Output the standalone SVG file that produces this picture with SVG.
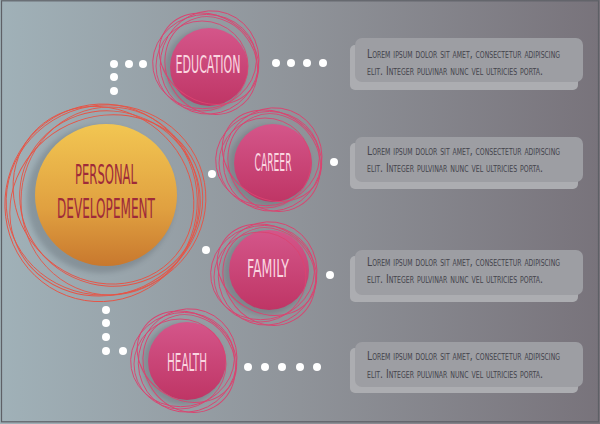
<svg xmlns="http://www.w3.org/2000/svg" xmlns:xlink="http://www.w3.org/1999/xlink" width="600" height="424" viewBox="0 0 600 424">
<defs>
<linearGradient id="bg" x1="0" y1="0" x2="1" y2="0">
<stop offset="0" stop-color="#a0b1b8"/>
<stop offset="0.5" stop-color="#8f9399"/>
<stop offset="1" stop-color="#78737b"/>
</linearGradient>
<linearGradient id="gold" x1="0" y1="0" x2="0" y2="1">
<stop offset="0" stop-color="#f2c652"/>
<stop offset="0.6" stop-color="#e0a040"/>
<stop offset="1" stop-color="#c8782e"/>
</linearGradient>
<linearGradient id="pink" x1="0" y1="0" x2="0" y2="1">
<stop offset="0" stop-color="#d4568a"/>
<stop offset="1" stop-color="#bf3565"/>
</linearGradient>
<filter id="blur" x="-30%" y="-30%" width="160%" height="160%"><feGaussianBlur stdDeviation="2.5"/></filter>
<g id="scrib" fill="none" stroke="#da4470" stroke-width="0.9">
<ellipse cx="-3" cy="-3" rx="52" ry="47" transform="rotate(-10)"/>
<ellipse cx="1" cy="-2" rx="49" ry="52" transform="rotate(20)"/>
<ellipse cx="-6" cy="2" rx="46" ry="45"/>
<ellipse cx="-2" cy="-5" rx="52" ry="43" transform="rotate(32)"/>
<ellipse cx="2" cy="3" rx="45" ry="50" transform="rotate(-30)"/>
</g>
<g id="scribBig" fill="none" stroke="#e65446" stroke-width="0.9">
<ellipse cx="0" cy="0" rx="100" ry="95" transform="rotate(-10)"/>
<ellipse cx="-4" cy="4" rx="96" ry="99" transform="rotate(15)"/>
<ellipse cx="3" cy="-3" rx="91" ry="87" transform="rotate(25)"/>
<ellipse cx="-2" cy="5" rx="98" ry="89" transform="rotate(-25)"/>
<ellipse cx="4" cy="1" rx="89" ry="94"/>
<ellipse cx="-5" cy="-2" rx="94" ry="85" transform="rotate(40)"/>
</g>
</defs>
<style>
.dot{fill:#ffffff}
.lbl{font-family:"Liberation Sans Narrow","DejaVu Sans Condensed","Liberation Sans",sans-serif;font-size:24px;fill:#fad6e0;text-anchor:middle}
.main{font-family:"Liberation Sans Narrow","DejaVu Sans Condensed","Liberation Sans",sans-serif;font-size:26px;fill:#9e2a3a;text-anchor:middle}
.lorem{font-family:"Liberation Sans Narrow","DejaVu Sans Condensed","Liberation Sans",sans-serif;font-size:12px;font-variant:small-caps;fill:#44444c}
.back{fill:#acadb1}
.front{fill:#9d9ea3}
.shadow{fill:#3a3f48;opacity:0.22;filter:url(#blur)}
</style>
<rect x="0" y="0" width="600" height="424" fill="url(#bg)"/>
<rect x="1.5" y="0.8" width="597" height="421" fill="none" stroke="#5e6066" stroke-width="1.2"/>

<g id="connectors">
<circle class="dot" cx="114" cy="64" r="4"/><circle class="dot" cx="129" cy="64" r="4"/><circle class="dot" cx="143" cy="64" r="4"/>
<circle class="dot" cx="114" cy="77" r="4"/><circle class="dot" cx="114" cy="91" r="4"/>
<circle class="dot" cx="276" cy="63" r="4"/><circle class="dot" cx="291" cy="63" r="4"/><circle class="dot" cx="307" cy="63" r="4"/><circle class="dot" cx="323" cy="63" r="4"/>
<circle class="dot" cx="212" cy="174" r="4"/><circle class="dot" cx="334" cy="162" r="4"/>
<circle class="dot" cx="206" cy="250" r="4"/><circle class="dot" cx="330" cy="275" r="4"/>
<circle class="dot" cx="106" cy="310" r="4"/><circle class="dot" cx="106" cy="323" r="4"/><circle class="dot" cx="106" cy="337" r="4"/><circle class="dot" cx="106" cy="351" r="4"/><circle class="dot" cx="123" cy="351" r="4"/>
<circle class="dot" cx="248" cy="367" r="4"/><circle class="dot" cx="265" cy="367" r="4"/><circle class="dot" cx="282" cy="367" r="4"/><circle class="dot" cx="300" cy="367" r="4"/><circle class="dot" cx="317" cy="367" r="4"/>
</g>

<g id="personal">
<circle class="shadow" cx="101" cy="199" r="74"/>
<circle cx="106" cy="195" r="71" fill="url(#gold)"/>
<use xlink:href="#scribBig" transform="translate(106,200)"/>
<text class="main" x="106" y="184" textLength="62" lengthAdjust="spacingAndGlyphs">PERSONAL</text>
<text class="main" x="106" y="218" textLength="98" lengthAdjust="spacingAndGlyphs">DEVELOPEMENT</text>
</g>

<g id="education">
<circle class="shadow" cx="205" cy="70" r="41"/>
<circle cx="209" cy="67" r="39" fill="url(#pink)"/>
<use xlink:href="#scrib" transform="translate(208,64)"/>
<text class="lbl" x="208" y="73" textLength="65" lengthAdjust="spacingAndGlyphs">EDUCATION</text>
</g>

<g id="career">
<circle class="shadow" cx="269" cy="166" r="41"/>
<circle cx="273" cy="163" r="39" fill="url(#pink)"/>
<use xlink:href="#scrib" transform="translate(271,161)"/>
<text class="lbl" x="273" y="171" textLength="37" lengthAdjust="spacingAndGlyphs">CAREER</text>
</g>

<g id="family">
<circle class="shadow" cx="265" cy="273" r="42"/>
<circle cx="269" cy="270" r="40" fill="url(#pink)"/>
<use xlink:href="#scrib" transform="translate(266,275)"/>
<text class="lbl" x="268" y="277" textLength="42" lengthAdjust="spacingAndGlyphs">FAMILY</text>
</g>

<g id="health">
<circle class="shadow" cx="183" cy="364" r="41"/>
<circle cx="187" cy="361" r="39" fill="url(#pink)"/>
<use xlink:href="#scrib" transform="translate(186,362)"/>
<text class="lbl" x="187" y="371" textLength="40" lengthAdjust="spacingAndGlyphs">HEALTH</text>
</g>

<g id="box1">
<rect class="back" x="350" y="45" width="228" height="45" rx="5"/>
<rect class="front" x="355" y="38" width="228" height="44" rx="7"/>
<text class="lorem" x="367" y="58" textLength="193" lengthAdjust="spacingAndGlyphs">Lorem ipsum dolor sit amet, consectetur adipiscing</text>
<text class="lorem" x="367" y="75" textLength="176" lengthAdjust="spacingAndGlyphs">elit. Integer pulvinar nunc vel ultricies porta.</text>
</g>

<g id="box2">
<rect class="back" x="350" y="143" width="228" height="46" rx="5"/>
<rect class="front" x="355" y="137" width="228" height="45" rx="7"/>
<text class="lorem" x="367" y="155" textLength="193" lengthAdjust="spacingAndGlyphs">Lorem ipsum dolor sit amet, consectetur adipiscing</text>
<text class="lorem" x="367" y="172" textLength="176" lengthAdjust="spacingAndGlyphs">elit. Integer pulvinar nunc vel ultricies porta.</text>
</g>

<g id="box3">
<rect class="back" x="350" y="256" width="228" height="46" rx="5"/>
<rect class="front" x="355" y="250" width="228" height="45" rx="7"/>
<text class="lorem" x="367" y="266" textLength="193" lengthAdjust="spacingAndGlyphs">Lorem ipsum dolor sit amet, consectetur adipiscing</text>
<text class="lorem" x="367" y="283" textLength="176" lengthAdjust="spacingAndGlyphs">elit. Integer pulvinar nunc vel ultricies porta.</text>
</g>

<g id="box4">
<rect class="back" x="350" y="348" width="228" height="45" rx="5"/>
<rect class="front" x="355" y="342" width="228" height="45" rx="7"/>
<text class="lorem" x="367" y="360" textLength="193" lengthAdjust="spacingAndGlyphs">Lorem ipsum dolor sit amet, consectetur adipiscing</text>
<text class="lorem" x="367" y="378" textLength="176" lengthAdjust="spacingAndGlyphs">elit. Integer pulvinar nunc vel ultricies porta.</text>
</g>
</svg>
